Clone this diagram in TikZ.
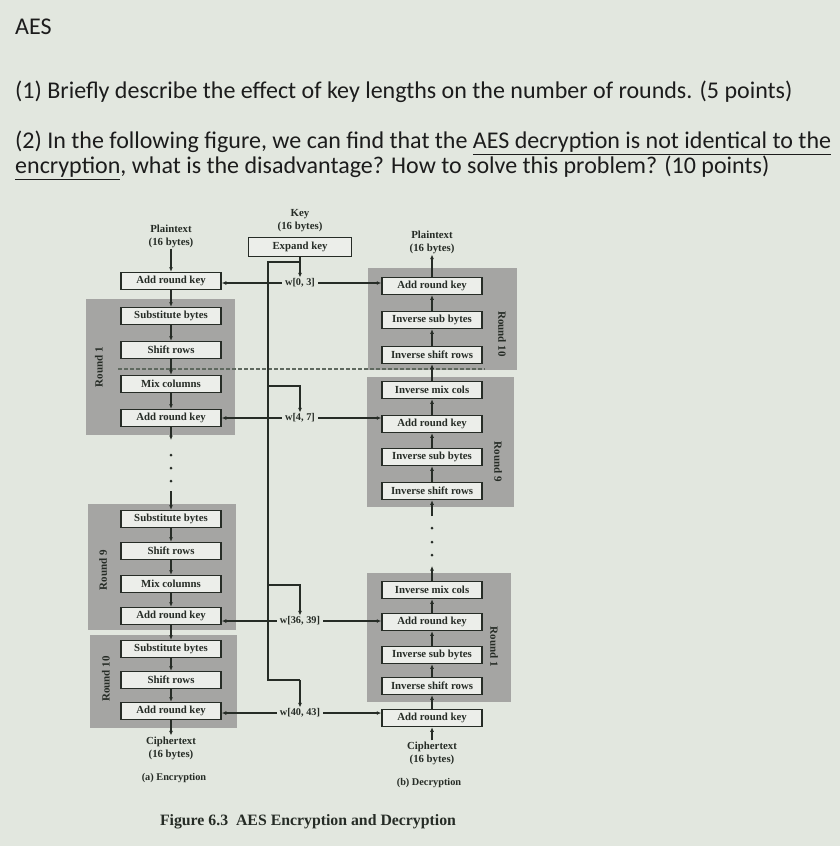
\documentclass[tikz,border=0pt]{standalone}
\usepackage{fontspec}
\setmainfont{Liberation Serif}
\newfontfamily\hdfont{Carlito}
\usetikzlibrary{arrows.meta}
\definecolor{bg}{RGB}{226,231,223}
\definecolor{panelc}{RGB}{165,165,163}
\definecolor{boxc}{RGB}{236,238,234}
\definecolor{ink}{RGB}{38,44,38}
\definecolor{hd}{RGB}{28,28,28}
\definecolor{dashc}{RGB}{95,105,95}
\begin{document}
\begin{tikzpicture}[x=1pt,y=-1pt,
  stage/.style={draw=ink, line width=1.5pt, fill=boxc, minimum width=100pt, minimum height=17pt, inner sep=0pt, font=\fontsize{10.8}{12}\selectfont\bfseries, text=ink},
  lbl/.style={font=\fontsize{10.8}{13}\selectfont\bfseries, text=ink, align=center, inner sep=1pt},
  small/.style={font=\fontsize{10.3}{12}\selectfont\bfseries, text=ink, inner sep=1pt},
  wl/.style={font=\fontsize{10.3}{12}\selectfont\bfseries, text=ink, inner xsep=3pt, inner ysep=1pt},
  panel/.style={fill=panelc, draw=none},
  rlbl/.style={font=\fontsize{11}{12}\selectfont\bfseries, text=ink, inner sep=0pt},
  arr/.style={draw=ink, line width=1.1pt, -{Latex[length=4.5pt,width=4pt]}},
  ln/.style={draw=ink, line width=1.1pt},
  dotn/.style={circle, fill=ink, inner sep=0pt, minimum size=3pt},
  hdtext/.style={font=\hdfont\fontsize{24}{28}\selectfont, text=hd, anchor=west, inner sep=0pt},
]
\path[fill=bg] (0,0) rectangle (840,846);
\useasboundingbox (0,0) rectangle (840,846);

% ---------- header text ----------
\node[hdtext] (h0) at (15,27) {AES};
\node[hdtext] (h1) at (15,92) {(1) Briefly describe the effect of key lengths on the number of rounds. (5 points)};
\node[hdtext] (h2) at (15,143) {(2) In the following figure, we can find that the \underline{AES decryption is not identical to the}};
\node[hdtext] (h3) at (15,168) {\underline{encryption}, what is the disadvantage? How to solve this problem? (10 points)};

% ---------- panels ----------
\path[panel] (86,299) rectangle (235,435);
\path[panel] (88,504) rectangle (236,630);
\path[panel] (90,635) rectangle (237,728);
\path[panel] (368,268) rectangle (517,370);
\path[panel] (367,377) rectangle (514,507);
\path[panel] (367,573) rectangle (511,702);

% dashed separator
\coordinate (dsl) at (118,369);
\coordinate (dsr) at (485,369);
\draw[dashc, line width=1.3pt, dash pattern=on 3.5pt off 2.5pt] (dsl) -- (dsr);

% ---------- encryption column ----------
\node[lbl] (ptL) at (171,236) {Plaintext\\(16 bytes)};
\node[stage] (e0) at (171,281) {Add round key};
\node[stage] (e1s) at (171,316) {Substitute bytes};
\node[stage] (e1r) at (171,350) {Shift rows};
\node[stage] (e1m) at (171,384) {Mix columns};
\node[stage] (e1k) at (171,418) {Add round key};
\coordinate (ls1) at (171,440);
\node[dotn] (ld1) at (171,455) {};
\node[dotn] (ld2) at (171,468) {};
\node[dotn] (ld3) at (171,481) {};
\coordinate (ls2) at (171,491);
\node[stage] (e9s) at (171,519) {Substitute bytes};
\node[stage] (e9r) at (171,551) {Shift rows};
\node[stage] (e9m) at (171,584) {Mix columns};
\node[stage] (e9k) at (171,616) {Add round key};
\node[stage] (e10s) at (171,649) {Substitute bytes};
\node[stage] (e10r) at (171,680) {Shift rows};
\node[stage] (e10k) at (171,711) {Add round key};
\node[lbl] (ctL) at (171,748) {Ciphertext\\(16 bytes)};
\node[small] (capa) at (174,778) {(a) Encryption};

\draw[arr] (ptL) -- (e0);
\draw[arr] (e0) -- (e1s);
\draw[arr] (e1s) -- (e1r);
\draw[arr] (e1r) -- (e1m);
\draw[arr] (e1m) -- (e1k);
\draw[arr] (e1k) -- (ls1);
\draw[arr] (ls2) -- (e9s);
\draw[arr] (e9s) -- (e9r);
\draw[arr] (e9r) -- (e9m);
\draw[arr] (e9m) -- (e9k);
\draw[arr] (e9k) -- (e10s);
\draw[arr] (e10s) -- (e10r);
\draw[arr] (e10r) -- (e10k);
\draw[arr] (e10k) -- (ctL);

\node[rlbl, rotate=90] (rl1) at (99,367) {Round 1};
\node[rlbl, rotate=90] (rl9) at (103,570) {Round 9};
\node[rlbl, rotate=90] (rl10) at (106,679) {Round 10};

% ---------- decryption column ----------
\node[lbl] (ptR) at (432,242) {Plaintext\\(16 bytes)};
\node[stage] (d0) at (432,286) {Add round key};
\node[stage] (d10s) at (432,320) {Inverse sub bytes};
\node[stage] (d10r) at (432,355) {Inverse shift rows};
\node[stage] (d9m) at (432,390) {Inverse mix cols};
\node[stage] (d9k) at (432,424) {Add round key};
\node[stage] (d9s) at (432,457) {Inverse sub bytes};
\node[stage] (d9r) at (432,491) {Inverse shift rows};
\coordinate (rs2) at (432,516);
\node[dotn] (rd1) at (432,528) {};
\node[dotn] (rd2) at (432,542) {};
\node[dotn] (rd3) at (432,555) {};
\coordinate (rs1) at (432,566);
\node[stage] (d1m) at (432,590) {Inverse mix cols};
\node[stage] (d1k) at (432,622) {Add round key};
\node[stage] (d1s) at (432,655) {Inverse sub bytes};
\node[stage] (d1r) at (432,686) {Inverse shift rows};
\node[stage] (dk) at (432,718) {Add round key};
\node[lbl] (ctR) at (432,753) {Ciphertext\\(16 bytes)};
\node[small] (capb) at (429,783) {(b) Decryption};

\draw[arr] (ctR) -- (dk);
\draw[arr] (dk) -- (d1r);
\draw[arr] (d1r) -- (d1s);
\draw[arr] (d1s) -- (d1k);
\draw[arr] (d1k) -- (d1m);
\draw[arr] (d1m) -- (rs1);
\draw[arr] (rs2) -- (d9r);
\draw[arr] (d9r) -- (d9s);
\draw[arr] (d9s) -- (d9k);
\draw[arr] (d9k) -- (d9m);
\draw[arr] (d9m) -- (d10r);
\draw[arr] (d10r) -- (d10s);
\draw[arr] (d10s) -- (d0);
\draw[arr] (d0) -- (ptR);

\node[rlbl, rotate=-90] (rr10) at (502,334) {Round 10};
\node[rlbl, rotate=-90] (rr9) at (498,462) {Round 9};
\node[rlbl, rotate=-90] (rr1) at (494,647) {Round 1};

% ---------- key schedule ----------
\node[lbl] (key) at (300,221) {Key\\(16 bytes)};
\node[stage, minimum width=103pt, minimum height=19pt] (exp) at (300,247) {Expand key};
\node[wl] (w0) at (300,283) {w[0, 3]};
\node[wl] (w4) at (300,418) {w[4, 7]};
\node[wl] (w36) at (300,621) {w[36, 39]};
\node[wl] (w40) at (300,713) {w[40, 43]};

\coordinate (kj) at (300,262);
\coordinate (kt) at (268,262);
\coordinate (kb1) at (268,386);
\coordinate (kb1r) at (300,386);
\coordinate (kb2) at (268,585);
\coordinate (kb2r) at (300,585);
\coordinate (kb3) at (268,680);
\coordinate (kb3r) at (300,680);

\draw[arr] (exp.south) -- (w0.north);
\draw[ln] (kj) -- (kt) -- (kb3) -- (kb3r);
\draw[arr] (kb3r) -- (w40.north);
\draw[arr] (kb1) -- (kb1r) -- (w4.north);
\draw[arr] (kb2) -- (kb2r) -- (w36.north);

\draw[arr] (w0.west) -- (w0.west -| e0.east);
\draw[arr] (w0.east) -- (w0.east -| d0.west);
\draw[arr] (w4.west) -- (w4.west -| e1k.east);
\draw[arr] (w4.east) -- (w4.east -| d9k.west);
\draw[arr] (w36.west) -- (w36.west -| e9k.east);
\draw[arr] (w36.east) -- (w36.east -| d1k.west);
\draw[arr] (w40.west) -- (w40.west -| e10k.east);
\draw[arr] (w40.east) -- (w40.east -| dk.west);

% caption
\node[font=\fontsize{15.8}{18}\selectfont\bfseries, text=ink, inner sep=0pt] (fig) at (308,822) {Figure 6.3\enspace AES Encryption and Decryption};
\end{tikzpicture}
\end{document}
